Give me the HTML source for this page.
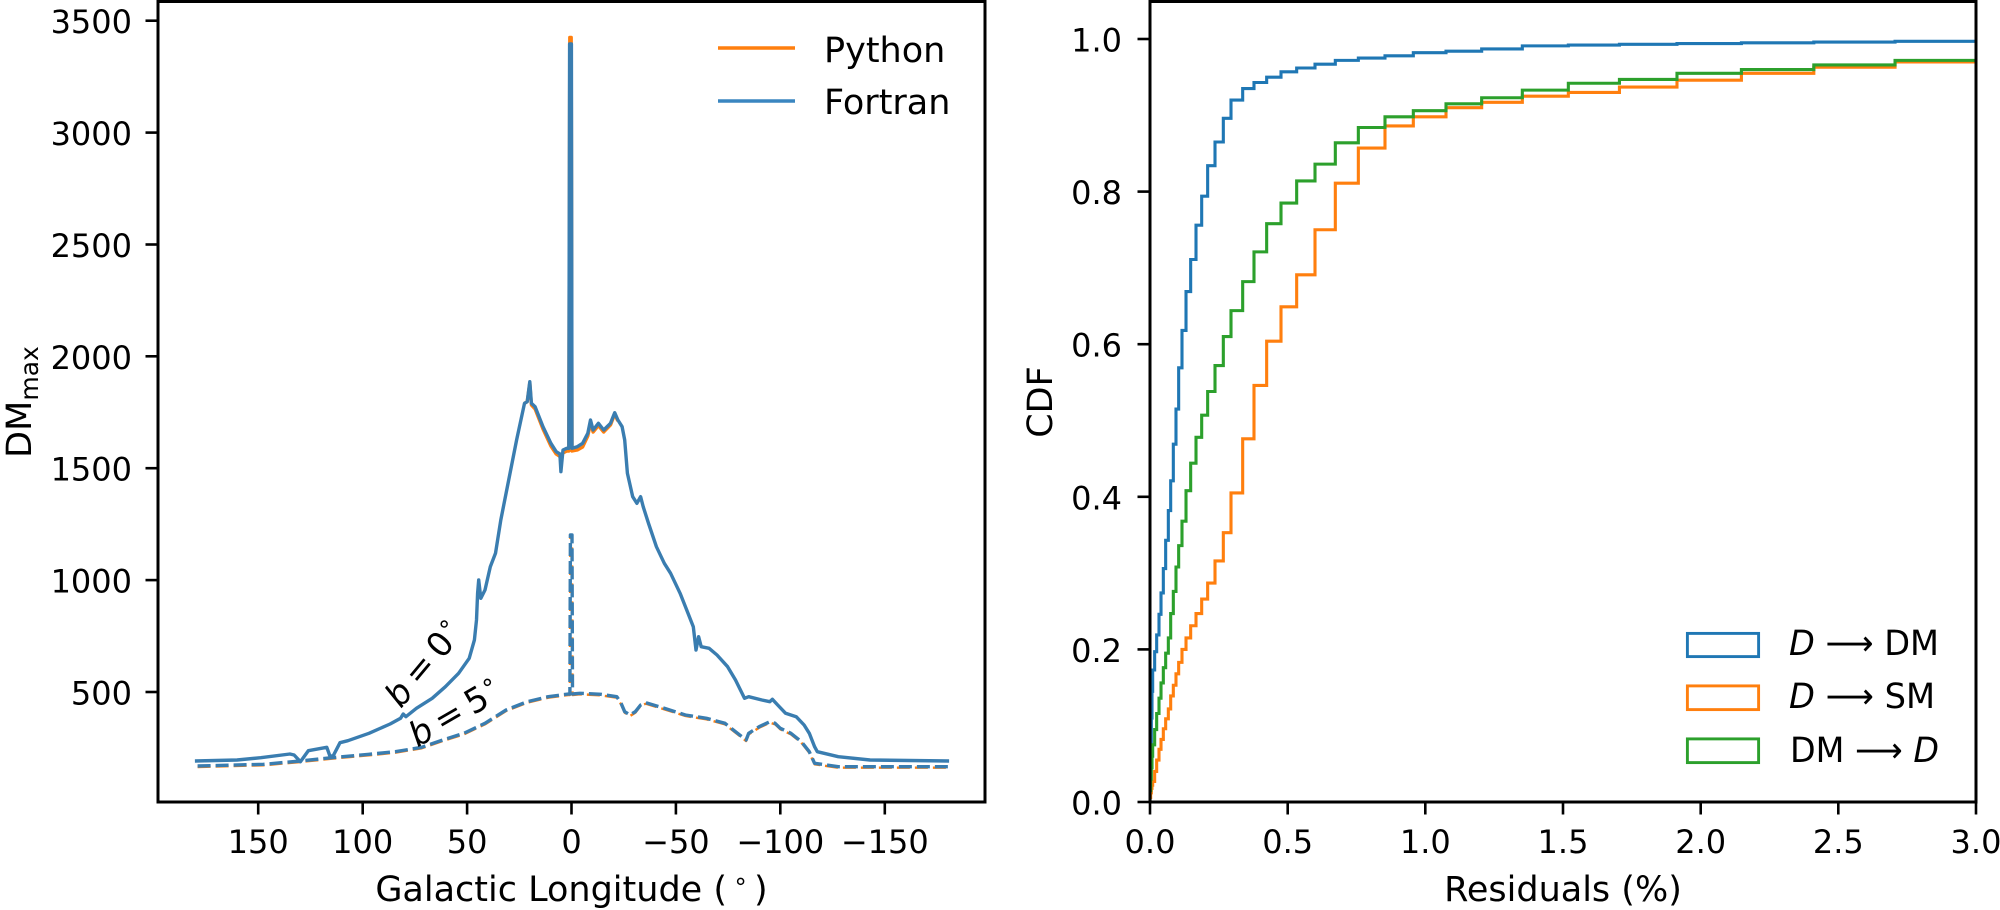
<!DOCTYPE html>
<html>
<head>
<meta charset="utf-8">
<style>
  html,body{margin:0;padding:0;background:#fff;}
  svg{display:block;}
  text{font-family:"DejaVu Sans","Liberation Sans",sans-serif;fill:#000;}
</style>
</head>
<body>
<svg width="2000" height="910" viewBox="0 0 2000 910" xmlns="http://www.w3.org/2000/svg">
  <defs>
    <clipPath id="clipL"><rect x="158" y="1.5" width="827" height="800.5"/></clipPath>
    <clipPath id="clipR"><rect x="1150" y="1.5" width="826" height="800.5"/></clipPath>
  </defs>
  <rect width="2000" height="910" fill="#fff"/>

  <!-- ============ LEFT PLOT ============ -->
  <g clip-path="url(#clipL)" fill="none" stroke-linejoin="round" stroke-linecap="butt">
    <!-- orange (Python) dashed underneath -->
    <path d="M197.6,767.0 L263.5,765.3 L300.4,762.0 L332.0,758.7 L369.0,755.3 L395.3,752.7 L421.7,748.3 L442.8,741.0 L463.9,734.3 L485.0,724.3 L506.1,711.0 L527.2,702.7 L548.3,697.7 L568.3,695.0 L569.9,695 L570.4,535 L572.0,535 L572.5,695 L579.9,694.3 L601.0,695.3 L616.8,697.7 L621.1,704.3 L624.7,712.7 L630.0,716.0 L635.3,712.7 L640.6,706.0 L645.8,703.7 L664.3,709.3 L685.4,716.0 L706.5,719.3 L725.0,724.3 L735.5,732.7 L746.1,741.0 L748.7,734.3 L759.2,727.7 L769.8,722.7 L775.1,724.3 L780.3,729.3 L790.9,734.3 L801.4,742.7 L809.3,752.7 L814.6,764.3 L838.3,767.7 L949.1,767.7" stroke="#ff7f0e" stroke-width="2.4" stroke-dasharray="13,5"/>
    <!-- orange solid central region -->
    <path d="M524.5,403.3 L527.2,401.7 L529.8,383 L531.4,405 L535.1,409 L543,429 L550.9,446 L556.2,454 L559.9,456.5 L563,453 L566.7,451 L568.8,451 L569.8,37.5 L571.2,37.5 L572,451 L577.3,450 L582.6,447 L587.8,436 L590.5,423 L593.1,432 L598.4,425.5 L603.7,432 L610.5,425 L614.7,414 L617.9,421" stroke="#ff7f0e" stroke-width="3.4"/>
    <!-- blue (Fortran) solid b=0 -->
    <path d="M194.9,761.0 L237.1,760.0 L260.8,757.7 L289.9,754.0 L294.1,755.0 L300.4,761.7 L308.3,750.7 L326.8,747.3 L329.9,756.0 L333.1,756.0 L340.0,742.7 L347.9,740.7 L369.0,733.3 L390.1,724.0 L400.6,718.3 L403.2,714.0 L405.9,716.7 L416.4,708.3 L432.2,698.3 L445.4,686.7 L458.6,673.3 L469.2,658.3 L474.4,640.0 L476.5,620.0 L477.6,593.3 L478.7,580.0 L480.8,598.3 L485.0,590.0 L490.3,566.7 L495.5,553.3 L500.8,520.0 L508.7,480.0 L516.6,440.0 L524.5,403.3 L527.2,401.7 L529.8,381.7 L531.4,403.3 L535.1,406.7 L543.0,426.7 L550.9,443.3 L556.2,451.7 L559.9,454.0 L560.9,471.7 L563.0,450.0 L566.7,448.3 L568.8,448.3 L569.6,44 L571.4,44 L572.0,448.3 L577.3,446.7 L582.6,443.3 L587.8,433.3 L590.5,420.0 L593.1,430.0 L598.4,423.3 L603.7,430.0 L610.5,423.3 L614.7,412.7 L617.9,420.0 L622.1,426.7 L624.7,440.0 L627.4,473.3 L632.7,496.7 L636.9,503.3 L640.6,496.7 L643.2,506.7 L648.5,523.3 L656.4,546.7 L664.3,563.3 L670.6,573.3 L680.1,593.3 L688.0,613.3 L693.3,626.7 L696.0,650.0 L698.6,636.7 L701.2,646.7 L709.1,648.3 L717.0,655.0 L727.6,666.7 L735.5,680.0 L744.5,698.3 L748.7,696.7 L761.9,700.0 L769.8,701.7 L772.4,699.3 L777.7,705.0 L785.6,713.3 L796.2,716.7 L804.1,725.0 L809.3,733.3 L814.6,746.7 L817.3,751.7 L838.3,756.7 L870.0,760.0 L949.1,761.0" stroke="#3a7db0" stroke-width="3.4"/>
    <!-- blue dashed b=5 -->
    <path d="M197.6,766.0 L263.5,764.3 L300.4,761.0 L332.0,757.7 L369.0,754.3 L395.3,751.7 L421.7,747.3 L442.8,740.0 L463.9,733.3 L485.0,723.3 L506.1,710.0 L527.2,701.7 L548.3,696.7 L568.3,694.0 L569.9,694 L570.4,535 L572.0,535 L572.5,694 L579.9,693.3 L601.0,694.3 L616.8,696.7 L621.1,703.3 L624.7,711.7 L630.0,715.0 L635.3,711.7 L640.6,705.0 L645.8,702.7 L664.3,708.3 L685.4,715.0 L706.5,718.3 L725.0,723.3 L735.5,731.7 L746.1,740.0 L748.7,733.3 L759.2,726.7 L769.8,721.7 L775.1,723.3 L780.3,728.3 L790.9,733.3 L801.4,741.7 L809.3,751.7 L814.6,763.3 L838.3,766.7 L949.1,766.7" stroke="#3a7db0" stroke-width="3.4" stroke-dasharray="13,5"/>
  </g>

  <!-- curve annotations -->
  <text transform="translate(424,663) rotate(-50)" text-anchor="middle" font-size="34" dy="12"><tspan font-style="italic">b</tspan><tspan dx="7">=</tspan><tspan dx="7">0</tspan><tspan dy="-14" font-size="24">∘</tspan></text>
  <text transform="translate(455,712) rotate(-30)" text-anchor="middle" font-size="34" dy="12"><tspan font-style="italic">b</tspan><tspan dx="7">=</tspan><tspan dx="7">5</tspan><tspan dy="-14" font-size="24">∘</tspan></text>

  <!-- left legend -->
  <line x1="718" y1="48" x2="795" y2="48" stroke="#ff7f0e" stroke-width="3.4"/>
  <line x1="718" y1="101" x2="795" y2="101" stroke="#3a86c0" stroke-width="3.4"/>
  <text x="824" y="62" font-size="35">Python</text>
  <text x="824" y="114" font-size="35">Fortran</text>

  <!-- left spines -->
  <g stroke="#000" stroke-width="3" fill="none">
    <rect x="158" y="1.5" width="827" height="800.5"/>
  </g>
  <!-- left ticks -->
  <g stroke="#000" stroke-width="2.6">
    <line x1="258.2" y1="802" x2="258.2" y2="814.5"/>
    <line x1="362.7" y1="802" x2="362.7" y2="814.5"/>
    <line x1="467.1" y1="802" x2="467.1" y2="814.5"/>
    <line x1="571.5" y1="802" x2="571.5" y2="814.5"/>
    <line x1="675.9" y1="802" x2="675.9" y2="814.5"/>
    <line x1="780.3" y1="802" x2="780.3" y2="814.5"/>
    <line x1="884.8" y1="802" x2="884.8" y2="814.5"/>
    <line x1="145.5" y1="692" x2="158" y2="692"/>
    <line x1="145.5" y1="580.1" x2="158" y2="580.1"/>
    <line x1="145.5" y1="468.2" x2="158" y2="468.2"/>
    <line x1="145.5" y1="356.3" x2="158" y2="356.3"/>
    <line x1="145.5" y1="244.5" x2="158" y2="244.5"/>
    <line x1="145.5" y1="132.6" x2="158" y2="132.6"/>
    <line x1="145.5" y1="20.7" x2="158" y2="20.7"/>
  </g>
  <g font-size="32" text-anchor="middle">
    <text x="258.2" y="853">150</text>
    <text x="362.7" y="853">100</text>
    <text x="467.1" y="853">50</text>
    <text x="571.5" y="853">0</text>
    <text x="675.9" y="853">−50</text>
    <text x="780.3" y="853">−100</text>
    <text x="884.8" y="853">−150</text>
  </g>
  <g font-size="32" text-anchor="end">
    <text x="132" y="704.5">500</text>
    <text x="132" y="592.6">1000</text>
    <text x="132" y="480.7">1500</text>
    <text x="132" y="368.8">2000</text>
    <text x="132" y="257">2500</text>
    <text x="132" y="145.1">3000</text>
    <text x="132" y="33.2">3500</text>
  </g>
  <text x="571.5" y="901" font-size="35" text-anchor="middle">Galactic Longitude (<tspan dx="6" dy="-12" font-size="24">∘</tspan><tspan dx="6" dy="12">)</tspan></text>
  <text transform="translate(31,402) rotate(-90)" font-size="35" text-anchor="middle">DM<tspan font-size="25" dy="7">max</tspan></text>

  <!-- ============ RIGHT PLOT ============ -->
  <g clip-path="url(#clipR)">
    <g transform="translate(1150,802) scale(275.33,-763)" fill="none" stroke-linejoin="miter">
      <path vector-effect="non-scaling-stroke" stroke="#1f77b4" stroke-width="3.1" d="M0,0 V0.03 H0.0024 V0.07 H0.0048 V0.11 H0.0073 V0.145 H0.0097 V0.173 H0.0169 V0.197 H0.0242 V0.219 H0.0327 V0.246 H0.0400 V0.274 H0.0484 V0.306 H0.0569 V0.343 H0.0666 V0.382 H0.0751 V0.421 H0.0847 V0.469 H0.0944 V0.515 H0.1041 V0.569 H0.1162 V0.618 H0.1308 V0.669 H0.1477 V0.711 H0.1671 V0.756 H0.1877 V0.794 H0.2094 V0.834 H0.2361 V0.865 H0.2663 V0.896 H0.2942 V0.920 H0.3366 V0.935 H0.3777 V0.943 H0.4237 V0.950 H0.4758 V0.957 H0.5327 V0.962 H0.5993 V0.967 H0.6731 V0.972 H0.7567 V0.975 H0.8535 V0.978 H0.9564 V0.982 H1.0751 V0.984 H1.2046 V0.987 H1.3523 V0.991 H1.5194 V0.992 H1.705 V0.993 H1.914 V0.994 H2.148 V0.995 H2.411 V0.996 H2.706 V0.997 H3.1"/>
      <path vector-effect="non-scaling-stroke" stroke="#ff7f0e" stroke-width="3.1" d="M0,0 V0.006 H0.0024 V0.012 H0.0048 V0.018 H0.0073 V0.022 H0.0097 V0.027 H0.0169 V0.040 H0.0242 V0.055 H0.0327 V0.069 H0.0400 V0.082 H0.0484 V0.096 H0.0569 V0.109 H0.0666 V0.122 H0.0751 V0.139 H0.0847 V0.153 H0.0944 V0.168 H0.1041 V0.183 H0.1162 V0.200 H0.1308 V0.215 H0.1477 V0.231 H0.1671 V0.247 H0.1877 V0.266 H0.2094 V0.287 H0.2361 V0.316 H0.2663 V0.353 H0.2942 V0.405 H0.3366 V0.476 H0.3777 V0.546 H0.4237 V0.604 H0.4758 V0.649 H0.5327 V0.691 H0.5993 V0.750 H0.6731 V0.811 H0.7567 V0.857 H0.8535 V0.886 H0.9564 V0.898 H1.0751 V0.910 H1.2046 V0.917 H1.3523 V0.925 H1.5194 V0.930 H1.705 V0.937 H1.914 V0.946 H2.148 V0.955 H2.411 V0.963 H2.706 V0.970 H3.1"/>
      <path vector-effect="non-scaling-stroke" stroke="#2ca02c" stroke-width="3.1" d="M0,0 V0.015 H0.0024 V0.03 H0.0048 V0.045 H0.0073 V0.06 H0.0097 V0.075 H0.0169 V0.095 H0.0242 V0.116 H0.0327 V0.136 H0.0400 V0.156 H0.0484 V0.176 H0.0569 V0.195 H0.0666 V0.215 H0.0751 V0.247 H0.0847 V0.276 H0.0944 V0.308 H0.1041 V0.336 H0.1162 V0.368 H0.1308 V0.408 H0.1477 V0.444 H0.1671 V0.478 H0.1877 V0.507 H0.2094 V0.538 H0.2361 V0.572 H0.2663 V0.610 H0.2942 V0.644 H0.3366 V0.682 H0.3777 V0.721 H0.4237 V0.758 H0.4758 V0.785 H0.5327 V0.814 H0.5993 V0.836 H0.6731 V0.864 H0.7567 V0.884 H0.8535 V0.898 H0.9564 V0.906 H1.0751 V0.915 H1.2046 V0.923 H1.3523 V0.933 H1.5194 V0.942 H1.705 V0.947 H1.914 V0.955 H2.148 V0.960 H2.411 V0.966 H2.706 V0.972 H3.1"/>
    </g>
  </g>

  <!-- right legend -->
  <rect x="1687.4" y="633.4" width="71.2" height="23.2" fill="none" stroke="#1f77b4" stroke-width="2.9"/>
  <rect x="1687.4" y="685.9" width="71.2" height="23.7" fill="none" stroke="#ff7f0e" stroke-width="2.9"/>
  <rect x="1687.4" y="738.9" width="71.2" height="23.7" fill="none" stroke="#2ca02c" stroke-width="2.9"/>
  <text x="1789" y="655" font-size="35" textLength="150" lengthAdjust="spacingAndGlyphs"><tspan font-style="italic">D</tspan> ⟶ DM</text>
  <text x="1789" y="708" font-size="35" textLength="146" lengthAdjust="spacingAndGlyphs"><tspan font-style="italic">D</tspan> ⟶ SM</text>
  <text x="1790" y="762" font-size="35" textLength="149" lengthAdjust="spacingAndGlyphs">DM ⟶ <tspan font-style="italic">D</tspan></text>

  <!-- right spines -->
  <rect x="1150" y="1.5" width="826" height="800.5" fill="none" stroke="#000" stroke-width="3"/>
  <g stroke="#000" stroke-width="2.6">
    <line x1="1150" y1="802" x2="1150" y2="814.5"/>
    <line x1="1287.7" y1="802" x2="1287.7" y2="814.5"/>
    <line x1="1425.3" y1="802" x2="1425.3" y2="814.5"/>
    <line x1="1563" y1="802" x2="1563" y2="814.5"/>
    <line x1="1700.7" y1="802" x2="1700.7" y2="814.5"/>
    <line x1="1838.3" y1="802" x2="1838.3" y2="814.5"/>
    <line x1="1976" y1="802" x2="1976" y2="814.5"/>
    <line x1="1137.5" y1="802" x2="1150" y2="802"/>
    <line x1="1137.5" y1="649.4" x2="1150" y2="649.4"/>
    <line x1="1137.5" y1="496.8" x2="1150" y2="496.8"/>
    <line x1="1137.5" y1="344.2" x2="1150" y2="344.2"/>
    <line x1="1137.5" y1="191.6" x2="1150" y2="191.6"/>
    <line x1="1137.5" y1="39" x2="1150" y2="39"/>
  </g>
  <g font-size="32" text-anchor="middle">
    <text x="1150" y="853">0.0</text>
    <text x="1287.7" y="853">0.5</text>
    <text x="1425.3" y="853">1.0</text>
    <text x="1563" y="853">1.5</text>
    <text x="1700.7" y="853">2.0</text>
    <text x="1838.3" y="853">2.5</text>
    <text x="1976" y="853">3.0</text>
  </g>
  <g font-size="32" text-anchor="end">
    <text x="1122" y="814.5">0.0</text>
    <text x="1122" y="661.9">0.2</text>
    <text x="1122" y="509.3">0.4</text>
    <text x="1122" y="356.7">0.6</text>
    <text x="1122" y="204.1">0.8</text>
    <text x="1122" y="51.5">1.0</text>
  </g>
  <text x="1563" y="901" font-size="35" text-anchor="middle">Residuals (%)</text>
  <text transform="translate(1052,402) rotate(-90)" font-size="35" text-anchor="middle">CDF</text>
</svg>
</body>
</html>
